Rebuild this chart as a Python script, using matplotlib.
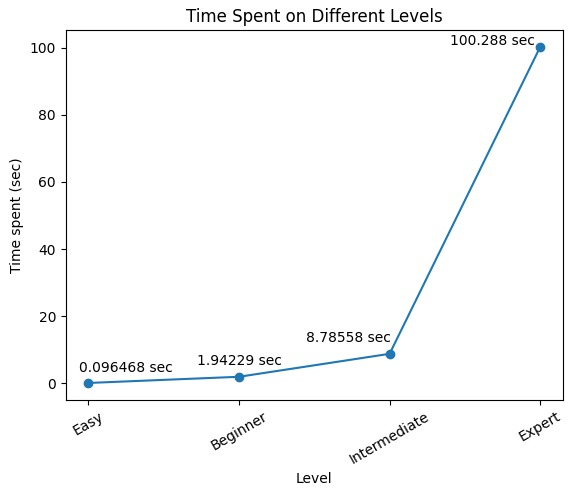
import matplotlib
matplotlib.use('Agg')
import matplotlib.pyplot as plt

# levels and the time spent on each one
levels = ['Easy', 'Beginner', 'Intermediate', 'Expert']
times = [0.096468, 1.94229, 8.78558, 100.288]

# where each label sits relative to its point (offset in points, alignment)
label_offsets = [(-6.5, 6), (0, 6), (1, 6), (-4, -1)]
label_align = ['left', 'center', 'right', 'right']

fig = plt.figure(figsize=(5.72, 4.96), dpi=100)
ax = fig.add_axes([0.115, 0.194, 0.869, 0.7455])

ax.plot(levels, times, marker='o')

for i, t in enumerate(times):
    ax.annotate(f'{t:g} sec', (i, t), textcoords='offset points',
                xytext=label_offsets[i], ha=label_align[i], va='bottom')

ax.set_title('Time Spent on Different Levels')
ax.set_xlabel('Level')
ax.set_ylabel('Time spent (sec)')
plt.setp(ax.get_xticklabels(), rotation=30)

fig.savefig('out.png')
